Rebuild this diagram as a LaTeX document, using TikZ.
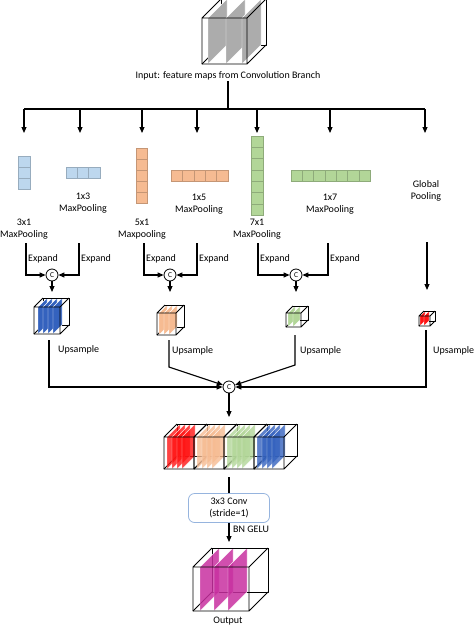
\documentclass[tikz,border=0pt]{standalone}
\usepackage{fontspec}
\setmainfont{Carlito}
\definecolor{cellblue}{RGB}{189, 215, 238}
\definecolor{cellorange}{RGB}{246, 187, 146}
\definecolor{cellgreen}{RGB}{178, 214, 152}
\definecolor{fmblue}{RGB}{52, 98, 190}
\definecolor{fmred}{RGB}{255, 20, 20}
\definecolor{fmmagenta}{RGB}{200, 48, 160}
\definecolor{convblue}{RGB}{150, 180, 222}
\usetikzlibrary{arrows.meta, positioning, calc}

% feature map cube: x, y (front top left), width, height, depth, slice fill, slice offsets
\newcommand{\fmcube}[7]{%
  \draw[cubeln] ({#1+#5},{#2-#5}) rectangle ++(#3,#4);
  \draw[cubeln] (#1,{#2+#4}) -- ++(#5,-#5);
  \foreach \s in {#7}
    \path[#6, draw=white, line width=0.4pt] ({#1+\s},#2) -- ++(#5,-#5) -- ++(0,#4) -- ++(-#5,#5) -- cycle;
  \draw[cubeln] (#1,#2) rectangle ++(#3,#4)
    (#1,#2) -- ++(#5,-#5) ({#1+#3},#2) -- ++(#5,-#5) ({#1+#3},{#2+#4}) -- ++(#5,-#5);
  \draw[cubeln] ({#1+#5},{#2-#5}) -| ({#1+#3+#5},{#2+#4-#5});
}

\begin{document}
\begin{tikzpicture}[x=1pt, y=-1pt,
  line/.style={line width=1.1pt},
  arr/.style={line, -{Triangle[length=6pt, width=5pt]}},
  cubeln/.style={line width=0.9pt, line join=round},
  lbl/.style={font=\fontsize{10}{11.5}\selectfont, align=center, inner sep=1pt},
  catc/.style={circle, draw, line width=0.8pt, minimum size=12pt, inner sep=0pt, fill=white, font=\fontsize{7.5}{8}\selectfont},
  cell/.style={draw=#1!80!black, fill=#1, line width=0.4pt},
  convbox/.style={draw=convblue, rounded corners=6pt, line width=0.8pt, minimum width=81pt, minimum height=29pt, align=center, inner sep=2pt, font=\fontsize{10}{11.5}\selectfont}
]
  \useasboundingbox (0,0) rectangle (474,627);

  % input
  \fmcube{202}{18}{45}{46}{19}{fill=gray!65}{6,24,40}
  \node[lbl] (intxt) at (228,76) {Input: feature maps from Convolution Branch};
  \coordinate (bus) at (228,109);
  \foreach \n/\x in {1/24, 2/80, 3/142, 4/197, 5/257, 6/330, 7/425}
    \coordinate (a\n) at (\x,133);
  \draw[line] (intxt) -- (bus);
  \draw[line] (a1 |- bus) -- (a7 |- bus);
  \foreach \n in {1,...,7}
    \draw[arr] (a\n |- bus) -- (a\n);

  % pooling kernels
  \foreach \i in {0,...,2} \draw[cell=cellblue] (18,{156+11*\i}) rectangle ++(12,11);
  \foreach \i in {0,...,2} \draw[cell=cellblue] ({66+11.3*\i},167) rectangle ++(11.3,11);
  \foreach \i in {0,...,4} \draw[cell=cellorange] (136,{148+11*\i}) rectangle ++(11,11);
  \foreach \i in {0,...,4} \draw[cell=cellorange] ({171+11.4*\i},170) rectangle ++(11.4,11);
  \foreach \i in {0,...,6} \draw[cell=cellgreen] (251,{136+11.3*\i}) rectangle ++(12,11.3);
  \foreach \i in {0,...,6} \draw[cell=cellgreen] ({291+11.3*\i},170) rectangle ++(11.3,11);

  \node[lbl] (l13) at (83,203) {1x3\\MaxPooling};
  \node[lbl] (l15) at (199,204) {1x5\\MaxPooling};
  \node[lbl] (l17) at (330,204) {1x7\\MaxPooling};
  \node[lbl] (lglob) at (426,191) {Global\\Pooling};
  \node[lbl] (l31) at (24,229) {3x1\\MaxPooling};
  \node[lbl] (l51) at (142,229) {5x1\\Maxpooling};
  \node[lbl] (l71) at (257,229) {7x1\\MaxPooling};

  % expand + concat
  \foreach \n/\l/\r/\c in {1/26/79/52, 2/144/197/170, 3/258/328/296} {
    \node[catc] (cat\n) at (\c,275) {C};
    \coordinate (el\n) at (\l,243);
    \coordinate (er\n) at (\r,243);
    \coordinate (d\n) at (\c,292);
    \draw[arr] (el\n) |- (cat\n);
    \draw[arr] (er\n) |- (cat\n);
    \draw[arr] (cat\n) -- (d\n);
    \node[lbl, anchor=west] (xl\n) at ({\l+1},259) {Expand};
    \node[lbl, anchor=west] (xr\n) at ({\r+1},259) {Expand};
  }
  \coordinate (g0) at (427,242);
  \coordinate (g1) at (427,290);
  \draw[arr] (g0) -- (g1);

  \fmcube{34}{307}{26}{27}{9}{fill=fmblue}{4,9,14,19}
  \fmcube{157}{313}{19}{22}{8}{fill=cellorange}{2,7,12}
  \fmcube{286}{313}{15}{14}{7}{fill=cellgreen}{2,7}
  \fmcube{419}{316}{11}{10}{5}{fill=fmred}{1,5}

  % upsample
  \node[catc] (catall) at (229,387) {C};
  \coordinate (u1) at (49,340);
  \coordinate (u2) at (169,340);
  \coordinate (u3) at (295,335);
  \coordinate (u4) at (426,330);
  \coordinate (k2) at (169,367);
  \coordinate (k3) at (295,365);
  \draw[arr] (u1) |- (catall);
  \draw[arr] (u2) -- (k2) -- (catall);
  \draw[arr] (u3) -- (k3) -- (catall);
  \draw[arr] (u4) |- (catall);
  \node[lbl, anchor=west] (up1) at (57,350) {Upsample};
  \node[lbl, anchor=west] (up2) at (171,351) {Upsample};
  \node[lbl, anchor=west] (up3) at (299,351) {Upsample};
  \node[lbl, anchor=west] (up4) at (432,351) {Upsample};

  % fused maps
  \coordinate (ct) at (229,417);
  \draw[arr] (catall) -- (ct);
  \foreach \c/\x in {fmred/164, cellorange/194, cellgreen/224, fmblue/254} {
    \fmcube{\x}{437}{30}{32}{13}{fill=\c, opacity=.8}{3,8,13,18}
  }

  \coordinate (cb) at (229,477);
  \node[convbox] (conv) at (229,508) {3x3 Conv\\(stride=1)};
  \draw[line] (cb) -- (conv);
  \coordinate (ot) at (229,542);
  \draw[arr] (conv) -- (ot);
  \node[lbl, anchor=west] (bn) at (232,529) {BN GELU};

  % output
  \fmcube{193}{567}{56}{44}{19}{fill=fmmagenta, opacity=.85}{7,21,35}
  \node[lbl] (outl) at (228,621) {Output};
\end{tikzpicture}
\end{document}
